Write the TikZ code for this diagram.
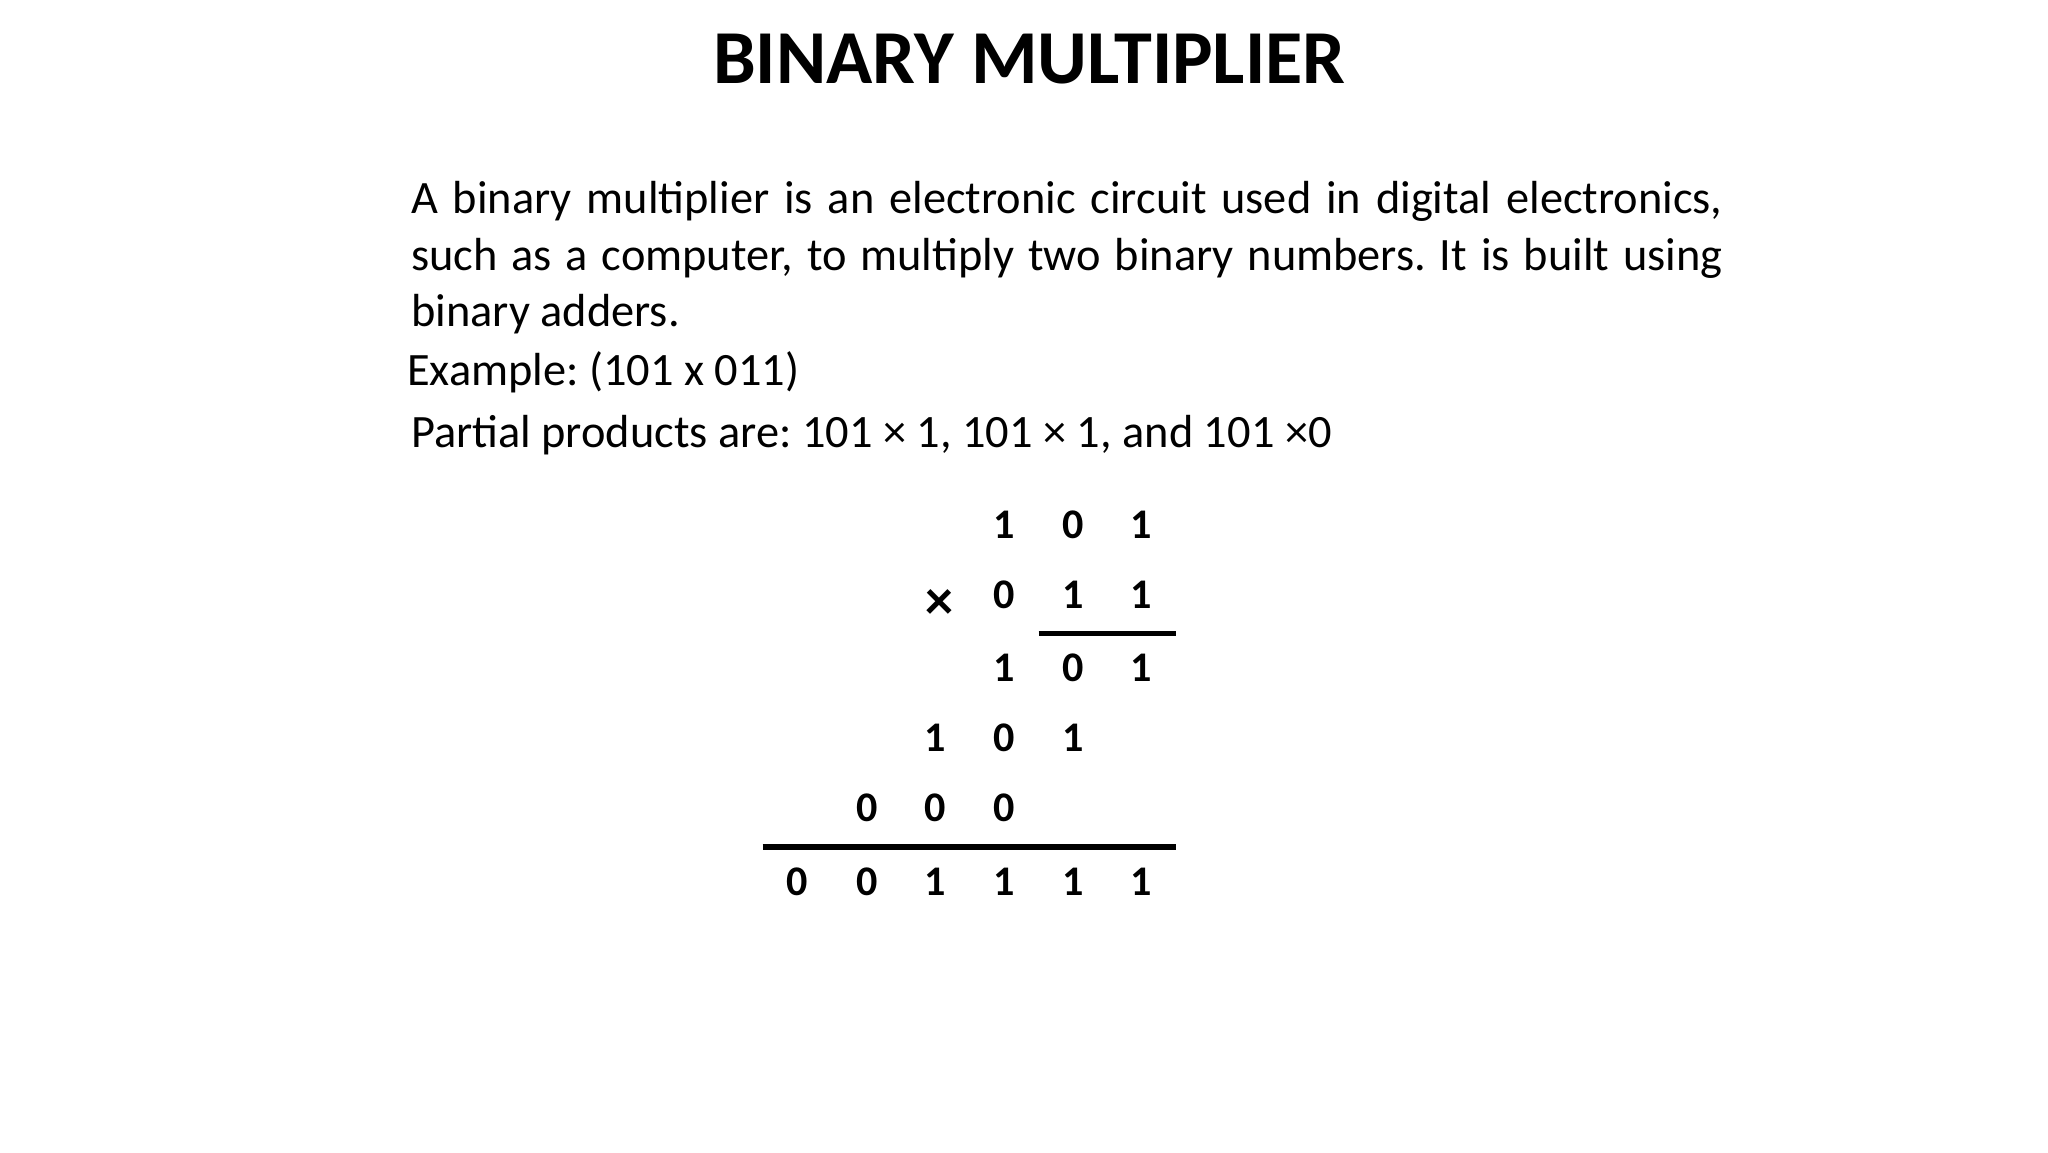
\documentclass[tikz,border=0pt]{standalone}
\usepackage{fontspec}
\setmainfont{Carlito}
\frenchspacing
\begin{document}
\begin{tikzpicture}[x=0.013196cm,y=-0.013196cm,
  dig/.style={font=\fontsize{12}{14}\selectfont\bfseries},
  txt/.style={font=\fontsize{13.2}{16.1}\selectfont, anchor=mid west, inner sep=0pt}]
\useasboundingbox[fill=white] (0,0) rectangle (1552,873);
\node[font=\fontsize{21.7}{26}\selectfont\bfseries] (title) at (780,45) {BINARY MULTIPLIER};
\node[txt, anchor=north west, text width=994*0.013196cm, align=justify] (para) at (311,137)
 {A binary multiplier is an electronic circuit used in digital electronics, such as a computer, to multiply two binary numbers. It is built using binary adders.};
\node[txt] (ex) at (308,286) {Example: (101 x 011)};
\node[txt] (pp) at (311,333) {Partial products are: 101 × 1, 101 × 1, and 101 ×0};
\foreach \x/\d [count=\i] in {761/1,813/0,865/1} \node[dig] (a\i) at (\x,398) {\d};
\foreach \x/\d [count=\i] in {761/0,813/1,865/1} \node[dig] (b\i) at (\x,451) {\d};
\node[font=\fontsize{16}{18}\selectfont\bfseries] (times) at (712,458) {×};
\foreach \x/\d [count=\i] in {761/1,813/0,865/1} \node[dig] (c\i) at (\x,506) {\d};
\foreach \x/\d [count=\i] in {709/1,761/0,813/1} \node[dig] (d\i) at (\x,559) {\d};
\foreach \x/\d [count=\i] in {657/0,709/0,761/0} \node[dig] (e\i) at (\x,612) {\d};
\foreach \x/\d [count=\i] in {604/0,657/0,709/1,761/1,813/1,865/1} \node[dig] (f\i) at (\x,668) {\d};
\coordinate (l1a) at (787,480); \coordinate (l1b) at (891,480);
\coordinate (l2a) at (578,642); \coordinate (l2b) at (891,642);
\draw[line width=1.6pt] (l1a) -- (l1b);
\draw[line width=1.6pt] (l2a) -- (l2b);
\end{tikzpicture}
\end{document}
